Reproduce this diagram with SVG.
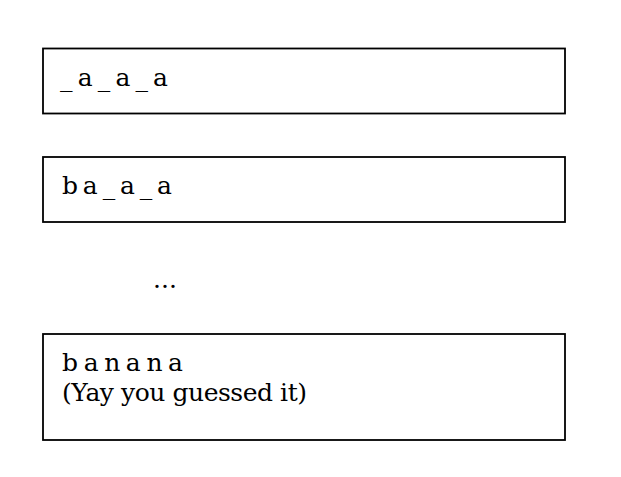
<svg xmlns="http://www.w3.org/2000/svg" width="621" height="477" viewBox="0 0 621 477">
<style>
.box{fill:#fff;stroke:#000;stroke-width:1.8}
.t{font-family:"DejaVu Serif","Liberation Serif",serif;font-size:25px;fill:#000}
</style>
<rect width="621" height="477" fill="#fff"/>
<g id="node1"><rect class="box" x="43" y="48.5" width="522" height="65"/><text class="t" x="60" y="86" textLength="108" lengthAdjust="spacing">_ a _ a _ a</text></g>
<g id="node2"><rect class="box" x="43" y="157" width="522" height="65"/><text class="t" x="62" y="194" textLength="110" lengthAdjust="spacing">b a _ a _ a</text></g>
<g id="ellipsis"><text class="t" x="153" y="288">...</text></g>
<g id="node3"><rect class="box" x="43" y="334" width="522" height="106"/><text class="t" x="62" y="371" textLength="121" lengthAdjust="spacing">b a n a n a</text><text class="t" x="62" y="401" textLength="245" lengthAdjust="spacing">(Yay you guessed it)</text></g>
<g id="connectors"/>
</svg>
